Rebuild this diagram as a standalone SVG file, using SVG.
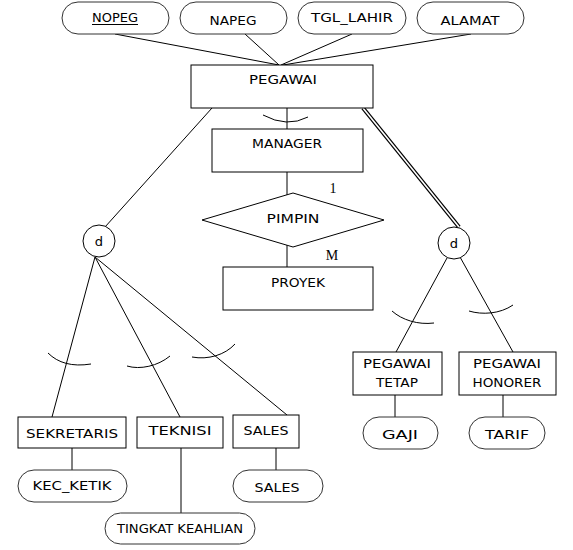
<svg xmlns="http://www.w3.org/2000/svg" width="573" height="550" viewBox="0 0 573 550">
<style>
.e{fill:#fff;stroke:#000;stroke-width:1}
.a{fill:#fff;stroke:#333;stroke-width:1}
.r{fill:#fff;stroke:#000;stroke-width:1}
.t{font-family:"DejaVu Sans",sans-serif;font-size:13px;fill:#000;text-anchor:middle}
.s{font-family:"Liberation Serif",serif;font-size:14px;fill:#000;text-anchor:middle}
.c line,.c path{stroke:#000;stroke-width:1;fill:none}
</style>
<rect width="573" height="550" fill="#fff"/>
<g class="c" id="connectors">
<line x1="115" y1="34" x2="279" y2="65"/>
<line x1="245" y1="34" x2="279" y2="65"/>
<line x1="352" y1="34" x2="281" y2="65"/>
<line x1="471" y1="34" x2="283" y2="65"/>
<line x1="287" y1="108" x2="287" y2="129"/>
<path d="M263,115 Q287,128 308,117"/>
<line x1="287" y1="172" x2="287" y2="195"/>
<line x1="287" y1="245" x2="287" y2="267"/>
<line x1="212" y1="108" x2="105" y2="227"/>
<line x1="363" y1="108" x2="459" y2="227" style="stroke-width:4"/>
<line x1="363" y1="108" x2="459" y2="227" style="stroke:#fff;stroke-width:1.6"/>
<line x1="95" y1="257" x2="52" y2="417"/>
<line x1="95" y1="257" x2="180" y2="417"/>
<line x1="95" y1="257" x2="287" y2="415"/>
<path d="M48,353 C58,363 72,367 91,364"/>
<path d="M127,366 C140,370 158,366 170,356"/>
<path d="M192,357 C208,360 225,355 235,344"/>
<line x1="447" y1="258" x2="396" y2="352"/>
<line x1="460" y1="257" x2="513" y2="352"/>
<path d="M392,311 C402,320 418,325 434,323"/>
<path d="M469,311 C482,315 500,314 513,305"/>
<line x1="72" y1="448" x2="72" y2="470"/>
<line x1="181" y1="448" x2="181" y2="513"/>
<line x1="276" y1="448" x2="276" y2="470"/>
<line x1="395" y1="395" x2="395" y2="417"/>
<line x1="503" y1="395" x2="503" y2="417"/>
</g>
<g id="nopeg"><rect class="a" x="62" y="2" width="107" height="32" rx="16"/><text class="t" x="115" y="22" textLength="46" lengthAdjust="spacingAndGlyphs">NOPEG</text><line x1="92" y1="24.5" x2="138" y2="24.5" stroke="#000" stroke-width="1"/></g>
<g id="napeg"><rect class="a" x="180" y="2" width="107" height="32" rx="16"/><text class="t" x="233" y="25" textLength="47" lengthAdjust="spacingAndGlyphs">NAPEG</text></g>
<g id="tgl_lahir"><rect class="a" x="298" y="2" width="108" height="32" rx="16"/><text class="t" x="352" y="22" textLength="82" lengthAdjust="spacingAndGlyphs">TGL_LAHIR</text></g>
<g id="alamat"><rect class="a" x="417" y="2" width="107" height="32" rx="16"/><text class="t" x="470" y="25" textLength="59" lengthAdjust="spacingAndGlyphs">ALAMAT</text></g>
<g id="pegawai"><rect class="r" x="191" y="65" width="182" height="43"/><text class="t" x="283" y="84" textLength="68" lengthAdjust="spacingAndGlyphs">PEGAWAI</text></g>
<g id="manager"><rect class="r" x="212" y="129" width="151" height="43"/><text class="t" x="287" y="148" textLength="70" lengthAdjust="spacingAndGlyphs">MANAGER</text></g>
<g id="pimpin"><polygon class="r" points="293,193 384,220 293,247 202,220"/><text class="t" x="293" y="223" textLength="53" lengthAdjust="spacingAndGlyphs">PIMPIN</text></g>
<text class="s" x="333" y="193">1</text>
<text class="s" x="332" y="260">M</text>
<g id="proyek"><rect class="r" x="223" y="267" width="150" height="43"/><text class="t" x="298" y="287" textLength="54" lengthAdjust="spacingAndGlyphs">PROYEK</text></g>
<g id="d_left"><circle class="r" cx="99" cy="241" r="16"/><text class="t" x="99" y="246">d</text></g>
<g id="d_right"><circle class="r" cx="454" cy="243" r="16"/><text class="t" x="454" y="248">d</text></g>
<g id="sekretaris"><rect class="r" x="18" y="417" width="108" height="31"/><text class="t" x="72" y="438" textLength="92" lengthAdjust="spacingAndGlyphs">SEKRETARIS</text></g>
<g id="teknisi"><rect class="r" x="137" y="417" width="86" height="31"/><text class="t" x="180" y="435" textLength="63" lengthAdjust="spacingAndGlyphs">TEKNISI</text></g>
<g id="sales"><rect class="r" x="233" y="415" width="66" height="33"/><text class="t" x="266" y="435" textLength="45" lengthAdjust="spacingAndGlyphs">SALES</text></g>
<g id="kec_ketik"><rect class="a" x="18" y="470" width="109" height="32" rx="16"/><text class="t" x="72" y="490" textLength="79" lengthAdjust="spacingAndGlyphs">KEC_KETIK</text></g>
<g id="tingkat_keahlian"><rect class="a" x="105" y="513" width="150" height="31" rx="15.5"/><text class="t" x="180" y="533" textLength="126" lengthAdjust="spacingAndGlyphs" style="font-size:12px">TINGKAT KEAHLIAN</text></g>
<g id="sales_attr"><rect class="a" x="233" y="470" width="90" height="32" rx="16"/><text class="t" x="277" y="492" textLength="45" lengthAdjust="spacingAndGlyphs">SALES</text></g>
<g id="pegawai_tetap"><rect class="r" x="353" y="352" width="89" height="43"/><text class="t" x="397" y="368" textLength="68" lengthAdjust="spacingAndGlyphs">PEGAWAI</text><text class="t" x="397" y="387" textLength="42" lengthAdjust="spacingAndGlyphs">TETAP</text></g>
<g id="pegawai_honorer"><rect class="r" x="459" y="352" width="97" height="43"/><text class="t" x="507" y="368" textLength="68" lengthAdjust="spacingAndGlyphs">PEGAWAI</text><text class="t" x="507" y="387" textLength="69" lengthAdjust="spacingAndGlyphs">HONORER</text></g>
<g id="gaji"><rect class="a" x="363" y="417" width="75" height="32" rx="16"/><text class="t" x="400" y="439" textLength="36" lengthAdjust="spacingAndGlyphs">GAJI</text></g>
<g id="tarif"><rect class="a" x="469" y="417" width="76" height="32" rx="16"/><text class="t" x="507" y="439" textLength="44" lengthAdjust="spacingAndGlyphs">TARIF</text></g>
</svg>
